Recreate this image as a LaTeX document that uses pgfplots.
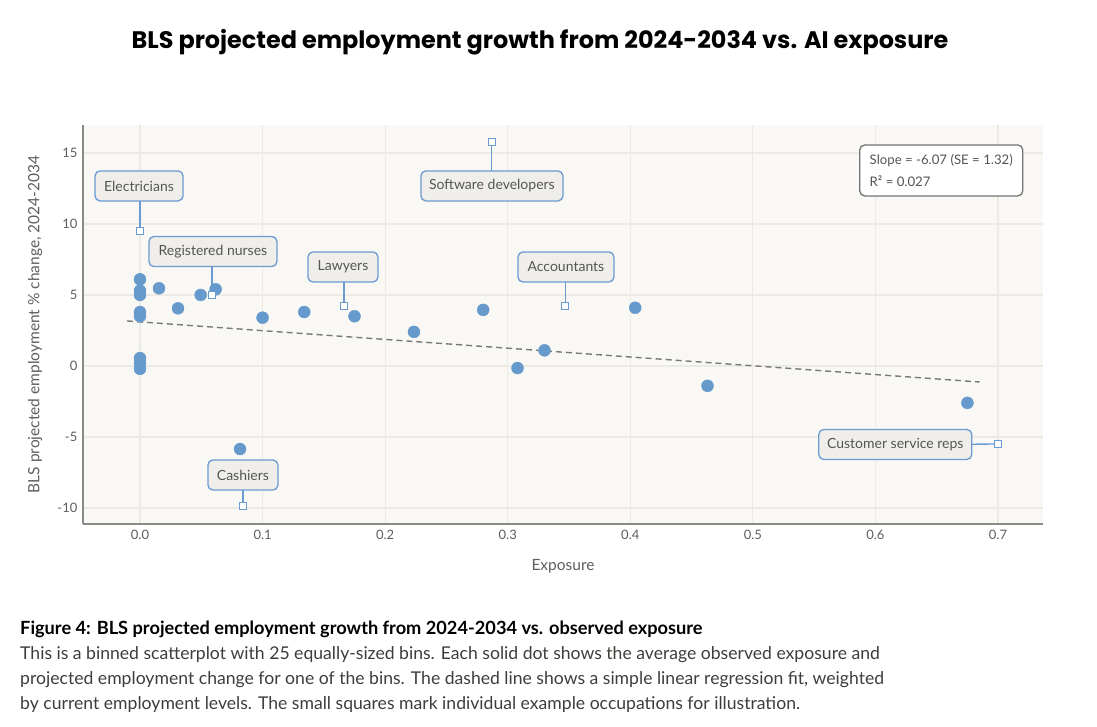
\documentclass[border=0pt]{standalone}
\usepackage{fontspec}
\setmainfont{Lato}
\newfontfamily\titlefont{Poppins}
\usepackage{pgfplots}
\pgfplotsset{compat=1.18}
\definecolor{dotblue}{HTML}{6699CC}
\definecolor{bgplot}{HTML}{F9F8F5}
\definecolor{gridc}{HTML}{ECEAE4}
\definecolor{axisc}{HTML}{8A8A88}
\definecolor{txtgray}{HTML}{5E5E5C}
\definecolor{labtext}{HTML}{555553}
\definecolor{labfill}{HTML}{F0EEEA}
\definecolor{labdraw}{HTML}{6A9BD2}
\definecolor{captext}{HTML}{3D3D3A}
\begin{document}
\begin{tikzpicture}[x=1pt,y=1pt,
  lab/.style={draw=labdraw, fill=labfill, rounded corners=5pt, line width=1.3pt, text=labtext,
    font=\fontsize{14}{16}\selectfont, minimum height=30pt, inner xsep=0pt}]
\path[use as bounding box] (0,0) rectangle (1097,726);
\node[font=\titlefont\fontsize{23.9}{28}\selectfont\bfseries] at (540,684) {BLS projected employment growth from 2024-2034 vs. AI exposure};
\begin{axis}[at={(83pt,202pt)}, anchor=south west, width=960pt, height=399pt, scale only axis,
  xmin=-0.0465, xmax=0.7367, ymin=-11.13, ymax=16.97,
  axis x line=bottom, axis y line=left,
  axis line style={-, draw=axisc, line width=1.3pt},
  axis background/.style={fill=bgplot},
  grid=major, major grid style={draw=gridc, line width=1.2pt},
  xtick={0,0.1,0.2,0.3,0.4,0.5,0.6,0.7},
  xticklabels={0.0,0.1,0.2,0.3,0.4,0.5,0.6,0.7},
  ytick={-10,-5,0,5,10,15},
  yticklabels={-10,-5,0,5,10,15},
  tick style={draw=none},
  tick label style={font=\fontsize{13}{15}\selectfont, text=txtgray},
  /pgf/number format/assume math mode=true,
  xlabel={Exposure}, ylabel={BLS projected employment \% change, 2024-2034},
  label style={font=\fontsize{15.5}{18}\selectfont, text=txtgray},
  x label style={at={(axis description cs:0.5,0)}, anchor=center, yshift=-42pt},
  y label style={at={(axis description cs:-0.05,0.5)}, anchor=center},
  clip=false]
% regression line
\addplot[draw=gray!95!black, dash pattern=on 6pt off 4pt, line width=1.4pt] coordinates {(-0.0106,3.17) (0.685,-1.13)};
% binned dots
\addplot[only marks, mark=*, mark size=6pt, mark options={draw=dotblue, fill=dotblue}] coordinates {
(0,6.1) (0,5.3) (0,5.0) (0,3.8) (0,3.5) (0,0.56) (0,0.2) (0,-0.2)
(0.0155,5.47) (0.031,4.06) (0.0495,5.0) (0.0617,5.4) (0.0816,-5.85)
(0.1,3.4) (0.134,3.8) (0.175,3.5) (0.2235,2.4) (0.28,3.95)
(0.308,-0.15) (0.330,1.1) (0.404,4.1) (0.463,-1.4) (0.675,-2.6)
};
% connectors
\draw[labdraw, line width=1.3pt] (axis cs:0,9.5) -- (axis cs:0,12.68);
\draw[labdraw, line width=1.3pt] (axis cs:0.0587,5.0) -- (axis cs:0.0587,8.06);
\draw[labdraw, line width=1.3pt] (axis cs:0.1664,4.2) -- (axis cs:0.1664,6.97);
\draw[labdraw, line width=1.3pt] (axis cs:0.287,15.8) -- (axis cs:0.287,12.68);
\draw[labdraw, line width=1.3pt] (axis cs:0.347,4.2) -- (axis cs:0.347,6.97);
\draw[labdraw, line width=1.3pt] (axis cs:0.084,-9.85) -- (axis cs:0.084,-7.68);
\draw[labdraw, line width=1.3pt] (axis cs:0.70,-5.5) -- (axis cs:0.6162,-5.53);
% labels
\node[lab, minimum width=88pt] at (axis cs:-0.0008,12.68) {Electricians};
\node[lab, minimum width=128pt] at (axis cs:0.0595,8.06) {Registered nurses};
\node[lab, minimum width=70pt] at (axis cs:0.1656,6.97) {Lawyers};
\node[lab, minimum width=142pt] at (axis cs:0.2871,12.68) {Software developers};
\node[lab, minimum width=96pt] at (axis cs:0.3475,6.97) {Accountants};
\node[lab, minimum width=153pt] at (axis cs:0.6162,-5.53) {Customer service reps};
\node[lab, minimum width=70pt] at (axis cs:0.084,-7.68) {Cashiers};
% example squares
\addplot[only marks, mark=square*, mark size=3.5pt, mark options={draw=labdraw, fill=white, line width=1.1pt}] coordinates {
(0,9.5) (0.0587,5.0) (0.1664,4.2) (0.287,15.8) (0.347,4.2) (0.70,-5.5) (0.084,-9.85)
};
% stats box
\node[draw=gray!90!black, fill=white, rounded corners=5pt, line width=1.3pt, text=labtext,
  font=\fontsize{13.2}{22}\selectfont, align=left, inner xsep=9pt, minimum width=163pt, minimum height=51pt]
  at (axis cs:0.6537,13.77) {Slope = -6.07 (SE = 1.32)\\R² = 0.027};
\end{axis}
% caption
\node[inner sep=0pt, anchor=base west, font=\fontsize{18.2}{20}\selectfont\bfseries, text=black] at (20,92) {Figure 4: BLS projected employment growth from 2024-2034 vs. observed exposure};
\node[inner sep=0pt, anchor=base west, font=\fontsize{17.6}{20}\selectfont, text=captext] at (20,67) {This is a binned scatterplot with 25 equally-sized bins. Each solid dot shows the average observed exposure and};
\node[inner sep=0pt, anchor=base west, font=\fontsize{17.6}{20}\selectfont, text=captext] at (20,42) {projected employment change for one of the bins. The dashed line shows a simple linear regression fit, weighted};
\node[inner sep=0pt, anchor=base west, font=\fontsize{17.6}{20}\selectfont, text=captext] at (20,17) {by current employment levels. The small squares mark individual example occupations for illustration.};
\end{tikzpicture}
\end{document}
